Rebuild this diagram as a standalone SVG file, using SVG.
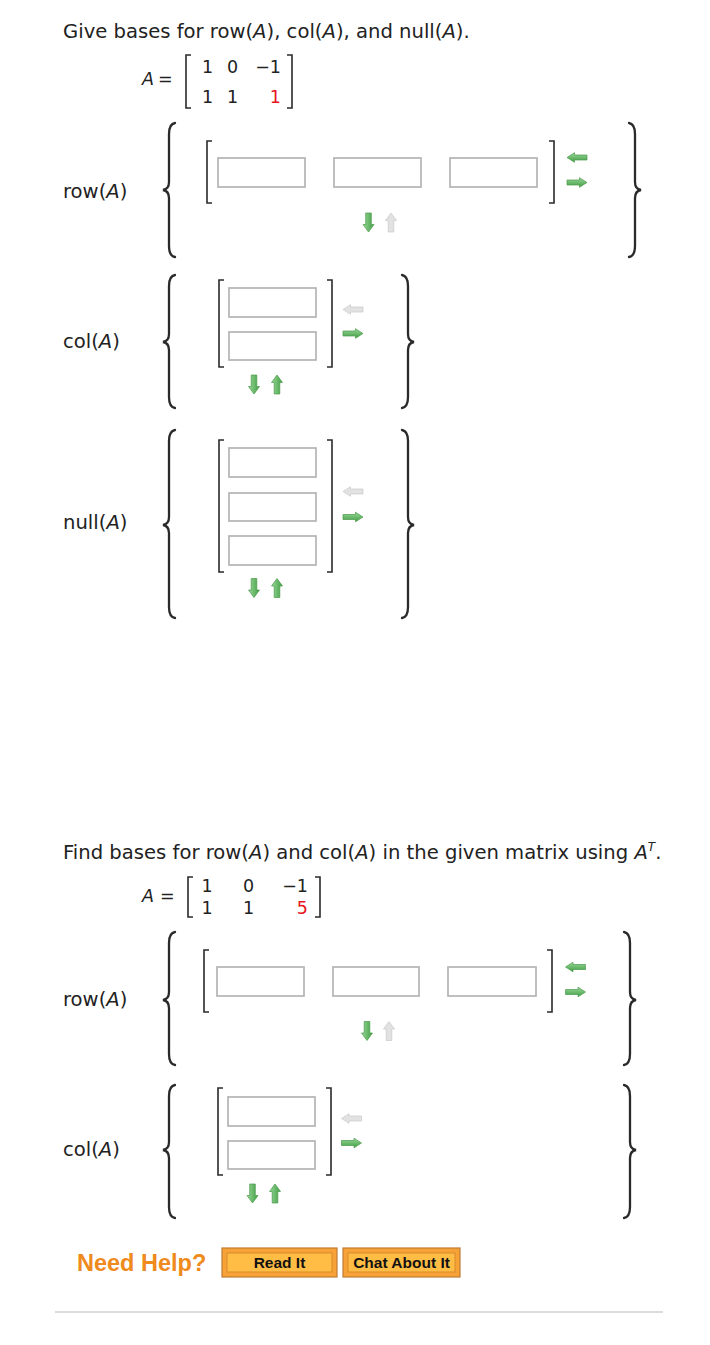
<svg xmlns="http://www.w3.org/2000/svg" width="710" height="1345" viewBox="0 0 710 1345">
<style>
  .t { font-family: "DejaVu Sans", Verdana, sans-serif; font-size: 19.6px; fill: #222; }
  .m { font-family: "DejaVu Sans", Verdana, sans-serif; font-size: 17.5px; fill: #222; }
  .i { font-style: italic; }
  .red { fill: #e8141c; }
  .brace { fill: none; stroke: #2a2a2a; stroke-width: 2.3; stroke-linecap: round; }
  .brk { fill: none; stroke: #2a2a2a; stroke-width: 1.6; }
  .box { fill: #fff; stroke: #b4b4b4; stroke-width: 1.7; }
  .g { fill: url(#gGreen); stroke: #4a9a4a; stroke-width: 0.7; }
  .gv { fill: url(#gGreenV); stroke: #4a9a4a; stroke-width: 0.7; }
  .off { fill: #e2e2e2; stroke: #c8c8c8; stroke-width: 0.7; }
  .help { font-family: "Liberation Sans", Arial, sans-serif; font-weight: bold; font-size: 23.5px; fill: #ef8a1c; }
  .btn { font-family: "Liberation Sans", Arial, sans-serif; font-weight: bold; font-size: 15.5px; fill: #111; text-anchor: middle; }
  .bo { fill: #f6a236; stroke: #c07a34; stroke-width: 1.2; }
  .bi { fill: #ffbd45; stroke: #d9892c; stroke-width: 1; }
</style>
<defs>
  <linearGradient id="gGreen" x1="0" y1="0" x2="0" y2="1">
    <stop offset="0" stop-color="#9ad89a"/>
    <stop offset="1" stop-color="#3f9e42"/>
  </linearGradient>
  <linearGradient id="gGreenV" x1="0" y1="0" x2="1" y2="0">
    <stop offset="0" stop-color="#9ad89a"/>
    <stop offset="1" stop-color="#3f9e42"/>
  </linearGradient>
  <path id="aR" d="M-10,-2.5 L2.5,-2.5 L2.5,-4.8 L10,0 L2.5,4.8 L2.5,2.5 L-10,2.5 Z"/>
  <path id="aL" d="M10,-2.5 L-2.5,-2.5 L-2.5,-4.8 L-10,0 L-2.5,4.8 L-2.5,2.5 L10,2.5 Z"/>
  <path id="aD" d="M-2.8,-9.5 L2.8,-9.5 L2.8,2 L5.5,2 L0,9.5 L-5.5,2 L-2.8,2 Z"/>
  <path id="aU" d="M-2.8,9.5 L2.8,9.5 L2.8,-2 L5.5,-2 L0,-9.5 L-5.5,-2 L-2.8,-2 Z"/>
</defs>
<rect width="710" height="1345" fill="#fff"/>

<!-- Problem 1 -->
<g id="heading1">
  <text class="t" x="63" y="38">Give bases for row(<tspan class="i">A</tspan>), col(<tspan class="i">A</tspan>), and null(<tspan class="i">A</tspan>).</text>
</g>
<g id="matrix1">
  <text class="m i" x="142" y="85">A</text>
  <text class="m" x="158" y="85">=</text>
  <path class="brk" d="M191,55 L186,55 L186,108 L191,108"/>
  <path class="brk" d="M287,55 L292,55 L292,108 L287,108"/>
  <text class="m" x="207.5" y="73" text-anchor="middle">1</text>
  <text class="m" x="232.5" y="73" text-anchor="middle">0</text>
  <text class="m" x="281" y="73" text-anchor="end">−1</text>
  <text class="m" x="207.5" y="103" text-anchor="middle">1</text>
  <text class="m" x="232.5" y="103" text-anchor="middle">1</text>
  <text class="m red" x="281" y="103" text-anchor="end">1</text>
</g>

<g id="rowA1">
  <text class="t" x="63" y="198">row(<tspan class="i">A</tspan>)</text>
  <path class="brace" d="M175,123 Q169,124 169,134 L169,182 Q169,189 163,190 Q169,191 169,198 L169,246 Q169,256 175,257"/>
  <path class="brace" d="M629,123 Q635,124 635,134 L635,182 Q635,189 641,190 Q635,191 635,198 L635,246 Q635,256 629,257"/>
  <path class="brk" d="M212,141 L207,141 L207,203 L212,203"/>
  <path class="brk" d="M549,141 L554,141 L554,203 L549,203"/>
  <rect class="box" x="218" y="158" width="87" height="29"/>
  <rect class="box" x="334" y="158" width="87" height="29"/>
  <rect class="box" x="450" y="158" width="87" height="29"/>
  <use href="#aL" class="g" x="577" y="157.5"/>
  <use href="#aR" class="g" x="577" y="182.5"/>
  <use href="#aD" class="gv" x="368.5" y="222.5"/>
  <use href="#aU" class="off" x="391" y="222.5"/>
</g>

<g id="colA1">
  <text class="t" x="63" y="348">col(<tspan class="i">A</tspan>)</text>
  <path class="brace" d="M175,275 Q169,276 169,286 L169,334 Q169,341 163,342 Q169,343 169,350 L169,397 Q169,407 175,408"/>
  <path class="brace" d="M402,275 Q408,276 408,286 L408,334 Q408,341 414,342 Q408,343 408,350 L408,397 Q408,407 402,408"/>
  <path class="brk" d="M224,280 L219,280 L219,367 L224,367"/>
  <path class="brk" d="M327,280 L332,280 L332,367 L327,367"/>
  <rect class="box" x="229" y="288" width="87" height="29"/>
  <rect class="box" x="229" y="332" width="87" height="28"/>
  <use href="#aL" class="off" x="353" y="309.5"/>
  <use href="#aR" class="g" x="353" y="333.5"/>
  <use href="#aD" class="gv" x="254" y="384.5"/>
  <use href="#aU" class="gv" x="277" y="384.5"/>
</g>

<g id="nullA1">
  <text class="t" x="63" y="529">null(<tspan class="i">A</tspan>)</text>
  <path class="brace" d="M175,430 Q169,431 169,441 L169,517 Q169,524 163,525 Q169,526 169,533 L169,607 Q169,617 175,618"/>
  <path class="brace" d="M402,430 Q408,431 408,441 L408,517 Q408,524 414,525 Q408,526 408,533 L408,607 Q408,617 402,618"/>
  <path class="brk" d="M224,440 L219,440 L219,572 L224,572"/>
  <path class="brk" d="M327,440 L332,440 L332,572 L327,572"/>
  <rect class="box" x="229" y="448" width="87" height="29"/>
  <rect class="box" x="229" y="493" width="87" height="28"/>
  <rect class="box" x="229" y="536" width="87" height="29"/>
  <use href="#aL" class="off" x="353" y="491.5"/>
  <use href="#aR" class="g" x="353" y="517"/>
  <use href="#aD" class="gv" x="254" y="588"/>
  <use href="#aU" class="gv" x="277" y="588"/>
</g>

<!-- Problem 2 -->
<g id="heading2">
  <text class="t" x="63" y="859">Find bases for row(<tspan class="i">A</tspan>) and col(<tspan class="i">A</tspan>) in the given matrix using <tspan class="i">A</tspan><tspan class="i" font-size="12" dy="-8">T</tspan><tspan dy="8">.</tspan></text>
</g>
<g id="matrix2">
  <text class="m i" x="142" y="902">A</text>
  <text class="m" x="160" y="902">=</text>
  <path class="brk" d="M193,877 L188,877 L188,917 L193,917"/>
  <path class="brk" d="M315,877 L320,877 L320,917 L315,917"/>
  <text class="m" x="207" y="892" text-anchor="middle">1</text>
  <text class="m" x="248.5" y="892" text-anchor="middle">0</text>
  <text class="m" x="308" y="892" text-anchor="end">−1</text>
  <text class="m" x="207" y="914" text-anchor="middle">1</text>
  <text class="m" x="248.5" y="914" text-anchor="middle">1</text>
  <text class="m red" x="308" y="914" text-anchor="end">5</text>
</g>

<g id="rowA2">
  <text class="t" x="63" y="1006">row(<tspan class="i">A</tspan>)</text>
  <path class="brace" d="M175,932 Q169,933 169,943 L169,992 Q169,999 163,1000 Q169,1001 169,1008 L169,1054 Q169,1064 175,1065"/>
  <path class="brace" d="M624,932 Q630,933 630,943 L630,992 Q630,999 636,1000 Q630,1001 630,1008 L630,1054 Q630,1064 624,1065"/>
  <path class="brk" d="M209,950 L204,950 L204,1012 L209,1012"/>
  <path class="brk" d="M547,950 L552,950 L552,1012 L547,1012"/>
  <rect class="box" x="217" y="967" width="87" height="29"/>
  <rect class="box" x="333" y="967" width="86" height="29"/>
  <rect class="box" x="448" y="967" width="88" height="29"/>
  <use href="#aL" class="g" x="575.5" y="967"/>
  <use href="#aR" class="g" x="575.5" y="992"/>
  <use href="#aD" class="gv" x="367" y="1031"/>
  <use href="#aU" class="off" x="389" y="1031"/>
</g>

<g id="colA2">
  <text class="t" x="63" y="1156">col(<tspan class="i">A</tspan>)</text>
  <path class="brace" d="M175,1085 Q169,1086 169,1096 L169,1142 Q169,1149 163,1150 Q169,1151 169,1158 L169,1207 Q169,1217 175,1218"/>
  <path class="brace" d="M624,1085 Q630,1086 630,1096 L630,1142 Q630,1149 636,1150 Q630,1151 630,1158 L630,1207 Q630,1217 624,1218"/>
  <path class="brk" d="M223,1088 L218,1088 L218,1175 L223,1175"/>
  <path class="brk" d="M326,1088 L331,1088 L331,1175 L326,1175"/>
  <rect class="box" x="228" y="1097" width="87" height="29"/>
  <rect class="box" x="228" y="1141" width="87" height="28"/>
  <use href="#aL" class="off" x="351.5" y="1118.5"/>
  <use href="#aR" class="g" x="351.5" y="1143"/>
  <use href="#aD" class="gv" x="252.5" y="1193.5"/>
  <use href="#aU" class="gv" x="275" y="1193.5"/>
</g>

<g id="help">
  <text class="help" x="77" y="1271">Need Help?</text>
  <g id="btnRead">
    <rect class="bo" x="222" y="1248" width="115" height="29"/>
    <rect class="bi" x="227" y="1253" width="105" height="19"/>
    <text class="btn" x="279.5" y="1268">Read It</text>
  </g>
  <g id="btnChat">
    <rect class="bo" x="343" y="1248" width="117" height="29"/>
    <rect class="bi" x="348" y="1253" width="107" height="19"/>
    <text class="btn" x="401.5" y="1268">Chat About It</text>
  </g>
</g>
<line x1="55" y1="1312" x2="663" y2="1312" stroke="#dcdcdc" stroke-width="2"/>
</svg>
